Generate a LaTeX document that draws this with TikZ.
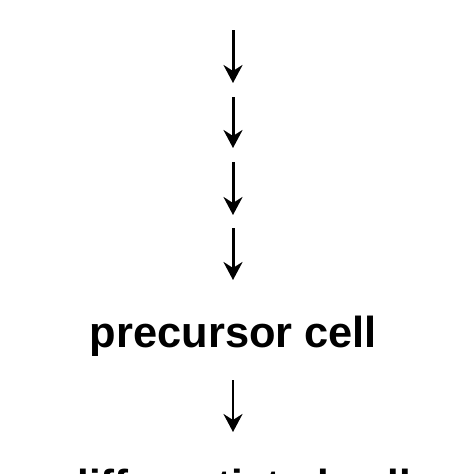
\documentclass[tikz,border=0pt]{standalone}
\usepackage{fontspec}
\setmainfont{Liberation Sans}
\usetikzlibrary{arrows.meta}
\begin{document}
\begin{tikzpicture}[x=1pt,y=-1pt,
  lbl/.style={anchor=base,inner sep=0pt,font=\fontsize{43.4}{50}\selectfont\bfseries},
  stepArrow/.style={line width=3pt,-{Stealth[length=18pt,width=19pt,inset=6pt]}}]
\useasboundingbox (0,0) rectangle (474,474);
\clip (0,0) rectangle (474,474);
\fill[white] (0,0) rectangle (474,474);
\coordinate (a1) at (233,30);
\coordinate (b1) at (233,83);
\coordinate (a2) at (233,97);
\coordinate (b2) at (233,148);
\coordinate (a3) at (233,162);
\coordinate (b3) at (233,215);
\coordinate (a4) at (233,228);
\coordinate (b4) at (233,280);
\node[lbl] (pre) at (233.5,347) {precursor cell};
\coordinate (a5) at (233,380);
\coordinate (b5) at (233,432);
\node[lbl,font=\fontsize{42}{50}\selectfont\bfseries] (diff) at (237.5,499) {differentiated cell};
\draw[stepArrow] (a1) -- (b1);
\draw[stepArrow] (a2) -- (b2);
\draw[stepArrow] (a3) -- (b3);
\draw[stepArrow] (a4) -- (b4);
\draw[stepArrow,line width=2.5pt] (a5) -- (b5);
\end{tikzpicture}
\end{document}
